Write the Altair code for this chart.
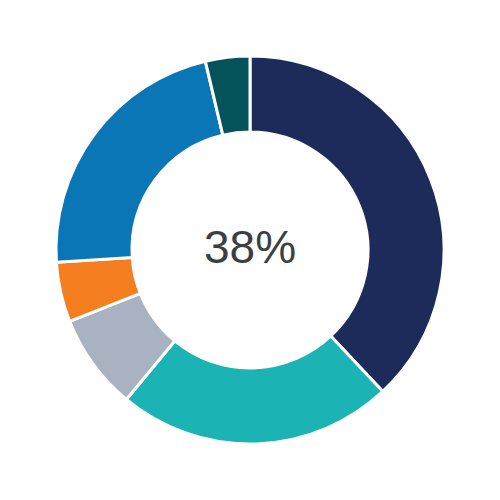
import pandas as pd
import altair as alt

segments = ['A', 'B', 'C', 'D', 'E', 'F']
shares = [38, 23, 8, 5, 22.3, 3.7]
colors = ['#1d2b5a', '#1bb3b3', '#a8b2c0', '#f47e20', '#0b76b6', '#04535a']
center_label = '38%'

df = pd.DataFrame({'segment': segments, 'share': shares, 'pos': list(range(len(segments)))})

base = alt.Chart(df).encode(
    theta=alt.Theta('share:Q', stack=True),
    order=alt.Order('pos:Q'),
    color=alt.Color('segment:N', scale=alt.Scale(domain=segments, range=colors), legend=None),
)

donut = base.mark_arc(radius=194, radius2=118, stroke='white', strokeWidth=3)

label = alt.Chart(pd.DataFrame({'t': [center_label]})).mark_text(
    fontSize=46, font='Liberation Sans', color='#3b3f44', baseline='middle', align='center'
).encode(text='t:N', x=alt.value(242), y=alt.value(241))

chart = alt.layer(donut, label).properties(
    width=484, height=484,
    autosize=alt.AutoSizeParams(type='fit', contains='padding'),
    padding=0,
).configure_view(stroke=None)

chart.save("out.html", embed_options={"renderer": "svg", "actions": False})
